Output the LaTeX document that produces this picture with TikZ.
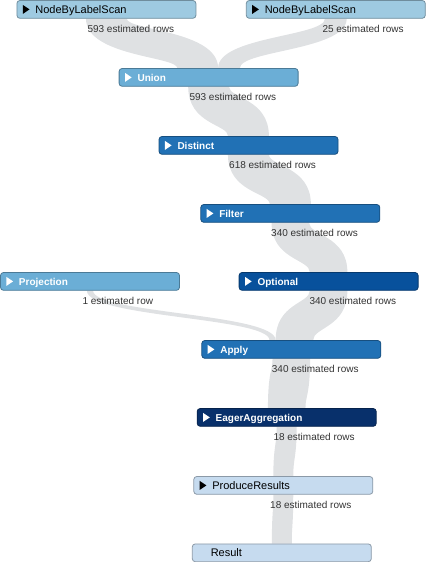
\documentclass[tikz,border=0pt]{standalone}
\usepackage{fontspec}
\setmainfont{Liberation Sans}
\usetikzlibrary{calc}
\pgfdeclarelayer{background}
\pgfsetlayers{background,main}
\definecolor{cA}{HTML}{C6DBEF}
\definecolor{cB}{HTML}{9ECAE1}
\definecolor{cC}{HTML}{6BAED6}
\definecolor{cD}{HTML}{2171B5}
\definecolor{cE}{HTML}{08519C}
\definecolor{cF}{HTML}{08306B}
\definecolor{flowc}{HTML}{DFE1E3}
\definecolor{lblc}{HTML}{333333}
\newcommand\opname[1]{\makebox[179pt][l]{\hspace*{18.5pt}#1}}
\newcommand\optri[2]{\fill[#2] ($(#1.west)+(6.3,-4.5)$) -- ++(6.7,4.5) -- ++(-6.7,4.5) -- cycle;}
\newcommand\flowband[4]{%
  \fill[flowfill] let \p1=(#1.south), \p2=($(#2.north)+(#3,0)$),
    \n1={#4/2}, \n2={(\y1+\y2)/2}, \n3={min(#4,(\y1-\y2))/3.1416}, \n4={sign(\x2-\x1)}
  in (\x1-\n1,\y1) .. controls (\x1-\n1,\n2*1pt-\n4*\n3*1pt) and (\x2-\n1,\n2*1pt-\n4*\n3*1pt) .. (\x2-\n1,\y2)
   -- (\x2+\n1,\y2) .. controls (\x2+\n1,\n2*1pt+\n4*\n3*1pt) and (\x1+\n1,\n2*1pt+\n4*\n3*1pt) .. (\x1+\n1,\y1) -- cycle;}
\tikzset{
  opbox/.style={draw=#1!70!black, fill=#1, rounded corners=3pt, line width=0.8pt,
    minimum height=17.8pt, minimum width=179pt, inner sep=0pt, text height=8pt, text depth=0pt},
  darkop/.style={opbox=#1, text=white, font=\bfseries\fontsize{10}{12}\selectfont},
  lightop/.style={opbox=#1, text=black, font=\fontsize{11}{13}\selectfont},
  rowlbl/.style={anchor=base west, inner sep=0pt, text=lblc, font=\fontsize{10}{12}\selectfont},
  flowfill/.style={fill=flowc}
}
\begin{document}
\begin{tikzpicture}[x=1pt,y=-1pt]
\useasboundingbox (0,0) rectangle (426,562);
% operators
\node[lightop=cB] (nbls1) at (106.4,9.4) {\opname{NodeByLabelScan}};
\node[lightop=cB] (nbls2) at (335.8,9.4) {\opname{NodeByLabelScan}};
\node[darkop=cC] (union) at (208.6,77.4) {\opname{Union}};
\node[darkop=cD] (distinct) at (248.5,145.4) {\opname{Distinct}};
\node[darkop=cD] (filter) at (290.3,213.4) {\opname{Filter}};
\node[darkop=cC] (projection) at (90,281.4) {\opname{Projection}};
\node[darkop=cE] (optional) at (328.6,281.4) {\opname{Optional}};
\node[darkop=cD] (apply) at (291.3,349.4) {\opname{Apply}};
\node[darkop=cF] (eager) at (286.7,417.4) {\opname{EagerAggregation}};
\node[lightop=cA] (produce) at (283.3,485.4) {\opname{ProduceResults}};
\node[lightop=cA] (result) at (281.8,552.8) {\opname{Result}};
% triangles
\optri{nbls1}{black}
\optri{nbls2}{black}
\optri{union}{white}
\optri{distinct}{white}
\optri{filter}{white}
\optri{projection}{white}
\optri{optional}{white}
\optri{apply}{white}
\optri{eager}{white}
\optri{produce}{black}
% row estimates
\node[rowlbl] (r1) at (87.3,32.3) {593 estimated rows};
\node[rowlbl] (r2) at (322.3,32.3) {25 estimated rows};
\node[rowlbl] (r3) at (189.3,100.3) {593 estimated rows};
\node[rowlbl] (r4) at (229,168.3) {618 estimated rows};
\node[rowlbl] (r5) at (271,236.3) {340 estimated rows};
\node[rowlbl] (r6) at (82.3,304.3) {1 estimated row};
\node[rowlbl] (r7) at (309.3,304.3) {340 estimated rows};
\node[rowlbl] (r8) at (271.7,372.3) {340 estimated rows};
\node[rowlbl] (r9) at (273.3,440.3) {18 estimated rows};
\node[rowlbl] (r10) at (270,508.3) {18 estimated rows};
% flows
\begin{pgfonlayer}{background}
\flowband{nbls1}{union}{-10.9}{40.8}
\flowband{nbls2}{union}{20.4}{21.8}
\flowband{union}{distinct}{0}{40.8}
\flowband{distinct}{filter}{0}{41.1}
\flowband{filter}{optional}{0}{37.5}
\flowband{projection}{apply}{-18.75}{6.2}
\flowband{optional}{apply}{3.1}{37.5}
\flowband{apply}{eager}{0}{37.5}
\flowband{eager}{produce}{0}{19.9}
\flowband{produce}{result}{0}{19.9}
\end{pgfonlayer}
\end{tikzpicture}
\end{document}
